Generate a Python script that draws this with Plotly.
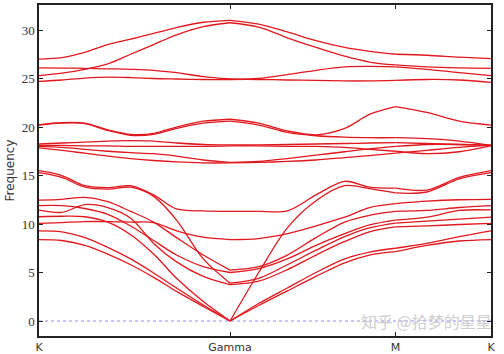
import plotly.graph_objects as go

# high-symmetry path K - Gamma - M - K (hexagonal, |K-G| = 1)
PATH_X = [0, 0.12, 0.24, 0.36, 0.48, 0.60, 0.72, 0.86, 1.0,
          1.15, 1.30, 1.45, 1.60, 1.73, 1.866,
          2.03, 2.20, 2.366]
TICK_POS = [0, 1.0, 1.866, 2.366]
TICK_TEXT = ["K", "Gamma", "M", "K"]
Y_TICKS = [0, 5, 10, 15, 20, 25, 30]

# phonon branches (frequency values along PATH_X)
top_a = [27.0, 27.15, 27.7, 28.5, 29.05, 29.65, 30.25, 30.8, 31.0, 30.6, 29.8, 28.9, 28.2, 27.8, 27.5, 27.4, 27.2, 27.05]
top_b = [25.3, 25.55, 25.95, 26.5, 27.5, 28.5, 29.5, 30.35, 30.75, 30.3, 29.2, 28.2, 27.3, 26.7, 26.4, 26.2, 26.1, 26.05]
top_c = [26.1, 26.08, 26.05, 26.0, 25.95, 25.85, 25.6, 25.2, 24.95, 25.0, 25.4, 25.85, 26.2, 26.25, 26.2, 25.95, 25.6, 25.3]
top_d = [24.7, 24.85, 25.05, 25.15, 25.1, 25.0, 24.95, 24.9, 24.9, 24.9, 24.85, 24.8, 24.75, 24.75, 24.8, 24.9, 24.85, 24.6]
mid_1 = [20.25, 20.45, 20.4, 19.7, 19.25, 19.35, 20.0, 20.6, 20.8, 20.4, 19.6, 19.2, 19.85, 21.3, 22.1, 21.5, 20.6, 20.2]
mid_2 = [20.2, 20.4, 20.35, 19.65, 19.15, 19.25, 19.85, 20.4, 20.6, 20.2, 19.45, 19.1, 18.95, 18.9, 18.9, 18.8, 18.55, 18.1]
mid_3 = [18.25, 18.35, 18.45, 18.55, 18.6, 18.55, 18.35, 18.2, 18.15, 18.15, 18.2, 18.25, 18.3, 18.35, 18.4, 18.3, 18.2, 18.1]
mid_4 = [18.1, 18.1, 18.05, 18.05, 18.0, 18.0, 18.0, 18.0, 18.05, 18.05, 18.0, 18.0, 17.9, 17.7, 17.5, 17.25, 17.45, 18.05]
mid_5 = [18.0, 17.9, 17.7, 17.5, 17.35, 17.25, 17.0, 16.6, 16.35, 16.45, 16.75, 17.1, 17.45, 17.75, 18.0, 18.2, 18.2, 18.1]
mid_6 = [17.85, 17.6, 17.3, 17.0, 16.75, 16.55, 16.4, 16.3, 16.3, 16.35, 16.45, 16.6, 16.85, 17.05, 17.3, 17.6, 17.9, 18.1]
low_9 = [15.5, 15.0, 13.95, 13.75, 13.95, 13.0, 11.55, 11.35, 11.3, 11.3, 11.35, 13.0, 14.4, 13.8, 13.7, 13.5, 14.8, 15.5]
low_la = [10.75, 10.8, 10.75, 10.2, 8.9, 6.9, 4.4, 2.0, 0.0, 5.0, 9.6, 12.4, 13.95, 13.65, 13.2, 13.3, 14.65, 15.3]
low_dv = [15.3, 14.8, 13.8, 13.6, 13.8, 12.85, 10.4, 6.4, 3.9, 4.4, 5.8, 7.3, 8.7, 9.6, 10.1, 10.3, 10.5, 10.7]
low_12 = [12.47, 12.55, 12.75, 12.3, 11.3, 10.2, 8.6, 6.8, 5.25, 5.6, 6.8, 8.6, 10.2, 10.9, 11.3, 11.4, 11.7, 11.9]
low_11 = [11.9, 11.9, 11.6, 11.0, 9.8, 8.3, 6.8, 5.6, 5.0, 5.4, 6.4, 7.8, 9.0, 9.9, 10.4, 10.7, 11.4, 11.45]
low_114 = [11.44, 11.2, 12.0, 11.7, 10.6, 8.0, 6.1, 4.6, 3.75, 4.1, 5.3, 6.8, 8.2, 9.2, 9.7, 9.8, 9.95, 10.07]
low_10 = [10.07, 10.15, 10.25, 10.25, 10.2, 10.15, 9.3, 8.65, 8.4, 8.5, 9.0, 9.8, 10.7, 11.7, 12.1, 12.35, 12.5, 12.55]
ta_2 = [9.3, 9.2, 8.6, 7.6, 6.4, 4.95, 3.4, 1.65, 0.0, 1.8, 3.4, 5.0, 6.4, 7.1, 7.5, 8.0, 8.7, 9.3]
ta_1 = [8.4, 8.3, 7.8, 6.9, 5.8, 4.5, 3.05, 1.5, 0.0, 1.6, 3.1, 4.6, 6.0, 6.8, 7.15, 7.8, 8.25, 8.4]

bands = [top_a, top_b, top_c, top_d, mid_1, mid_2, mid_3, mid_4, mid_5, mid_6,
         low_9, low_la, low_dv, low_12, low_11, low_114, low_10, ta_2, ta_1]

SEG = [(0, 9), (8, 15), (14, 18)]

fig = go.Figure()

# zero-frequency reference line
fig.add_trace(go.Scatter(x=[TICK_POS[0], TICK_POS[-1]], y=[0, 0], mode="lines",
                         line=dict(color="#8c8cf0", width=1, dash="dot"),
                         hoverinfo="skip", showlegend=False))

for b in bands:
    xs, ys = [], []
    for i, (s, e) in enumerate(SEG):
        if i:
            xs.append(None)
            ys.append(None)
        xs += PATH_X[s:e]
        ys += b[s:e]
    fig.add_trace(go.Scatter(x=xs, y=ys, mode="lines", connectgaps=False,
                             line=dict(color="#e0181e", width=1.3, shape="spline", smoothing=0.9),
                             hoverinfo="skip", showlegend=False))

fig.add_annotation(text="知乎 @拾梦的星星", xref="paper", yref="paper", x=0.858, y=0.045,
                   xanchor="center", yanchor="middle", showarrow=False,
                   font=dict(family="Noto Sans CJK SC", size=16, color="rgba(200,200,200,0.9)"))

fig.update_layout(
    width=504, height=354,
    margin=dict(l=39, r=13, t=5, b=18),
    paper_bgcolor="white", plot_bgcolor="white",
    xaxis=dict(range=[0, 2.366], tickvals=TICK_POS, ticktext=TICK_TEXT,
               ticks="inside", ticklen=4, tickwidth=1.2, tickcolor="#222",
               showline=True, linecolor="#222", linewidth=1.5, mirror="ticks",
               showgrid=False, zeroline=False, automargin=False,
               tickfont=dict(family="DejaVu Sans", size=11, color="#333")),
    yaxis=dict(range=[-1.546, 32.58], tickvals=Y_TICKS,
               ticks="inside", ticklen=4, tickwidth=1.2, tickcolor="#222",
               showline=True, linecolor="#222", linewidth=1.5, mirror="ticks",
               showgrid=False, zeroline=False, automargin=False,
               tickfont=dict(family="Liberation Serif", size=13, color="#333"),
               title=dict(text="Frequency", standoff=4,
                          font=dict(family="DejaVu Sans", size=12, color="#333"))),
)

fig.write_html("out.html")
